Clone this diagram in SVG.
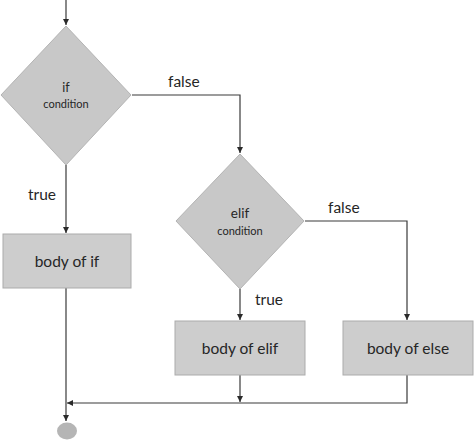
<svg xmlns="http://www.w3.org/2000/svg" width="474" height="443" viewBox="0 0 474 443">
<style>
.dia{fill:#c8c8c8;stroke:#b4b4b4;stroke-width:1}
.box{fill:#cdcdcd;stroke:#ababab;stroke-width:1}
.t{font-family:Lato,"Open Sans",sans-serif;fill:#262626;text-anchor:middle}
.big{font-size:15.5px}
.sm{font-size:11px}
.lbl{font-family:Lato,"Open Sans",sans-serif;fill:#262626;font-size:15.5px}
.c{fill:none;stroke:#3a3a3a;stroke-width:1.2}
</style>
<defs>
<marker id="ar" viewBox="0 0 10 10" refX="10" refY="5" markerWidth="6" markerHeight="6" orient="auto" markerUnits="userSpaceOnUse">
<path d="M0,0 L10,5 L0,10 z" fill="#2a2a2a"/>
</marker>
</defs>
<g id="connectors">
<path class="c" d="M66,0 V25" marker-end="url(#ar)"/>
<path class="c" d="M132,95 H240 V153" marker-end="url(#ar)"/>
<path class="c" d="M66,165 V233" marker-end="url(#ar)"/>
<path class="c" d="M305,221 H407 V320" marker-end="url(#ar)"/>
<path class="c" d="M240,289 V320" marker-end="url(#ar)"/>
<path class="c" d="M66,288 V421" marker-end="url(#ar)"/>
<path class="c" d="M240,375 V402" marker-end="url(#ar)"/>
<path class="c" d="M407,375 V403 H67" marker-end="url(#ar)"/>
<text class="lbl" x="168" y="87">false</text>
<text class="lbl" x="28" y="200">true</text>
<text class="lbl" x="328" y="213">false</text>
<text class="lbl" x="255" y="305">true</text>
</g>
<g id="if-condition">
<polygon class="dia" points="66,26 131,95 66,165 1,95"/>
<text class="t" x="66" y="92" style="font-size:12.5px">if</text>
<text class="t sm" x="66" y="108">condition</text>
</g>
<g id="elif-condition">
<polygon class="dia" points="240,154 304,221 240,289 176,221"/>
<text class="t" x="240" y="218" style="font-size:13.5px">elif</text>
<text class="t sm" x="240" y="235">condition</text>
</g>
<g id="body-if">
<rect class="box" x="3" y="234" width="128" height="54"/>
<text class="t big" x="67" y="267">body of if</text>
</g>
<g id="body-elif">
<rect class="box" x="175" y="321" width="130" height="54"/>
<text class="t big" x="240" y="354">body of elif</text>
</g>
<g id="body-else">
<rect class="box" x="343" y="321" width="130" height="54"/>
<text class="t big" x="408" y="354">body of else</text>
</g>
<g id="end">
<ellipse cx="67" cy="431" rx="10" ry="8.5" fill="#b5b5b5"/>
</g>
</svg>
